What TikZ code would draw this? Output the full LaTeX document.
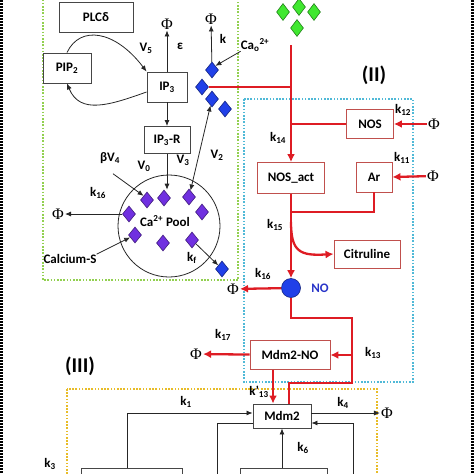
\documentclass[tikz,border=0pt]{standalone}
\usepackage[no-math]{fontspec}
\setmainfont{Carlito}
\newfontfamily\phifont{Liberation Serif}
\usetikzlibrary{arrows.meta,calc,positioning,shapes.geometric}

\definecolor{nored}{RGB}{222,28,36}
\definecolor{boxred}{RGB}{192,80,77}
\definecolor{boxgray}{RGB}{70,70,70}
\definecolor{zgreen}{RGB}{146,208,80}
\definecolor{zcyan}{RGB}{80,185,215}
\definecolor{zyellow}{RGB}{232,188,40}
\definecolor{dblue}{RGB}{32,64,232}
\definecolor{dpurple}{RGB}{112,48,224}
\definecolor{dgreen}{RGB}{64,232,48}
\definecolor{notext}{RGB}{40,52,200}

\newcommand{\kk}[1]{k\textsubscript{#1}}

\tikzset{
  box/.style={draw=boxgray, line width=0.9pt, inner sep=0pt, font=\bfseries\fontsize{13}{13}\selectfont},
  redbox/.style={draw=boxred, line width=0.9pt, inner sep=0pt, font=\bfseries\fontsize{13}{13}\selectfont},
  lbl/.style={inner sep=0pt, font=\bfseries\fontsize{13}{13}\selectfont},
  biglbl/.style={inner sep=0pt, font=\bfseries\fontsize{21}{21}\selectfont},
  phi/.style={inner sep=1pt, font=\phifont\fontsize{16}{16}\selectfont},
  arr/.style={-{Latex[length=6pt,width=5pt]}, line width=0.8pt, draw=black!85},
  plain/.style={line width=0.8pt, draw=black!85},
  rarr/.style={-{Latex[length=8pt,width=8pt]}, line width=2.3pt, draw=nored},
  rline/.style={line width=2.3pt, draw=nored},
  dia/.style={diamond, draw=#1!55!black, fill=#1, line width=0.6pt, minimum width=13pt, minimum height=16pt, inner sep=0pt},
  zone/.style={draw=#1, line width=2.4pt, dash pattern=on 1.6pt off 1.6pt},
  edgeline/.style={draw=black, line width=3.2pt, dash pattern=on 2pt off 1pt},
}

\begin{document}
\begin{tikzpicture}[x=1pt,y=-1pt]
  \useasboundingbox (0,0) rectangle (474,474);
  \clip (0,0) rectangle (474,474);
  % scanned page edges
  \draw[edgeline] (1.7,0) -- (1.7,474);
  \draw[edgeline] (472.3,0) -- (472.3,474);

  % module I
  \draw[zone=zgreen] (43,-10) rectangle (238,280);
  \node[box, minimum width=74pt, minimum height=30pt] (plc) at (96,17) {PLCδ};
  \node[box, minimum width=48pt, minimum height=30pt] (pip) at (67,68) {PIP\textsubscript{2}};
  \node[box, minimum width=40pt, minimum height=30pt] (ip3) at (167,87) {IP\textsubscript{3}};
  \node[box, minimum width=46pt, minimum height=27pt] (ip3r) at (167,140) {IP\textsubscript{3}-R};
  \draw[arr] (pip.north) .. controls (80,25) and (115,30) .. (ip3.north west);
  \draw[arr] ([yshift=-5pt]ip3.west) .. controls (110,105) and (80,115) .. (pip.south);
  \node[lbl] (v5) at (146,48) {V\textsubscript{5}};
  \node[phi] (phiE) at (167,24) {Φ};
  \draw[arr] (ip3) -- (phiE);
  \node[lbl] (eps) at (180,46) {ε};
  \draw[arr] (ip3) -- (ip3r);

  % Ca2+ pool
  \node[draw=black!85, circle, line width=0.8pt, minimum size=102pt] (pool) at (169,226) {};
  \foreach \x/\y [count=\i] in {147/200, 164/198, 189/197, 202/212, 129/214, 135/235, 163/243, 192/240}
    \node[dia=dpurple] (pd\i) at (\x,\y) {};
  \node[lbl] (pooltxt) at (165,221) {Ca\textsuperscript{2+} Pool};
  \foreach \x/\y [count=\i] in {212/70, 202/87, 212/99, 225/109, 222/269}
    \node[dia=dblue] (bd\i) at (\x,\y) {};
  \node[lbl] (bv4) at (110,158) {βV\textsubscript{4}};
  \draw[arr] ($(bv4.south)+(3,10)$) -- (pd1.north west);
  \draw[arr] (ip3r.south) -- (ip3r.south |- pd2.north);
  \node[lbl] (v0) at (144,166) {V\textsubscript{0}};
  \node[lbl] (v3) at (183,160) {V\textsubscript{3}};
  \draw[{Latex[length=6pt,width=5pt]}-{Latex[length=6pt,width=5pt]}, line width=0.8pt, draw=black!85] (pd3) -- (bd3);
  \node[lbl] (v2) at (217,155) {V\textsubscript{2}};
  \node[lbl] (cao) at (255,45) {Ca\textsubscript{o}\textsuperscript{2+}};
  \draw[arr] (cao.south west) -- (bd1.north east);
  \node[phi] (phiK) at (211,19) {Φ};
  \draw[arr] (bd1) -- (phiK);
  \node[lbl] (k) at (223,39) {k};
  \node[phi] (phiP) at (58,214) {Φ};
  \draw[arr] (pd5) -- (phiP);
  \node[lbl] (k16a) at (98,193) {\kk{16}};
  \node[lbl] (cals) at (70,259) {Calcium-S};
  \draw[arr] (cals.north east) -- (pd6);
  \draw[arr] (pd8) -- (bd5);
  \node[lbl] (kf) at (192,258) {\kk{f}};

  % module II
  \draw[zone=zcyan] (244,99) rectangle (413,382);
  \node[biglbl] (lII) at (374,75) {(II)};
  \foreach \x/\y [count=\i] in {283/12, 299/7, 314/12, 297/28}
    \node[dia=dgreen, minimum height=17pt] (gd\i) at (\x,\y) {};
  \coordinate (top) at (291,45);
  \node[redbox, minimum width=47pt, minimum height=29pt] (nos) at (370,124) {NOS};
  \node[redbox, minimum width=67pt, minimum height=31pt] (nosact) at (291,178) {NOS\_act};
  \node[redbox, minimum width=36pt, minimum height=30pt] (ar) at (374,177) {Ar};
  \node[redbox, minimum width=66pt, minimum height=28pt] (cit) at (367,254) {Citruline};
  \node[circle, fill=dblue, draw=dblue!55!black, line width=0.6pt, minimum size=19pt, inner sep=0pt] (no) at (291,288) {};
  \node[lbl, text=notext] (notxt) at (320,288) {NO};
  \draw[rline] (bd2.east) -- (bd2.east -| top);
  \draw[rarr] (top) -- (nosact.north);
  \draw[rline] (nos.west) -- (nos.west -| top);
  \node[lbl] (k14) at (278,138) {\kk{14}};
  \node[phi] (phiN) at (434,124) {Φ};
  \draw[rarr] (phiN) -- (nos.east);
  \node[lbl] (k12) at (403,110) {\kk{12}};
  \node[phi] (phiA) at (433,176) {Φ};
  \draw[rarr] (phiA) -- (ar.east);
  \node[lbl] (k11) at (402,158) {\kk{11}};
  \coordinate (arj) at (291,212);
  \draw[rline] (ar.south) |- (arj);
  \draw[rarr] (nosact.south) -- (no.north);
  \coordinate (cj) at (291,222);
  \draw[rarr] (cj) .. controls (291,252) and (300,256) .. (cit.west);
  \node[lbl] (k15) at (275,225) {\kk{15}};
  \node[phi] (phiNO) at (233,289) {Φ};
  \draw[rarr] (no) -- (phiNO);
  \node[lbl] (k16b) at (263,274) {\kk{16}};

  % module III
  \node[biglbl] (lIII) at (80,366) {(III)};
  \draw[zone=zyellow] (67,389) rectangle (377,500);
  \node[redbox, minimum width=80pt, minimum height=29pt] (mdmno) at (290,355) {Mdm2-NO};
  \node[box, minimum width=58pt, minimum height=24pt] (mdm2) at (282,416) {Mdm2};
  \coordinate (j2) at (352,318);
  \coordinate (j4) at (289,383);
  \draw[rline] (no) |- (j2) |- (j4) -- ([xshift=7pt]mdm2.north);
  \draw[rarr] (mdmno.east -| j2) -- (mdmno.east);
  \node[lbl] (k13) at (373,353) {\kk{13}};
  \node[phi] (phiM) at (196,354) {Φ};
  \draw[rarr] (mdmno) -- (phiM);
  \node[lbl] (k17) at (223,335) {\kk{17}};
  \draw[rarr] ([xshift=-17pt]mdmno.south) -- ([xshift=-9pt]mdm2.north);
  \node[lbl] (k13b) at (259,392) {k’\textsubscript{13}};
  \node[box, minimum width=101pt, minimum height=34pt] (cL) at (131.5,485) {};
  \node[box, minimum width=87pt, minimum height=34pt] (cR) at (283.5,485) {};
  \draw[arr] ([xshift=-4.5pt]cL.north) |- ([yshift=3pt]mdm2.west);
  \node[lbl] (k1) at (186,402) {\kk{1}};
  \coordinate (dL) at (217,480);
  \draw[plain] ([yshift=-7pt]mdm2.west) -| (dL);
  \node[phi] (phiD) at (387,413) {Φ};
  \draw[arr] ([yshift=3pt]mdm2.east) -- (phiD);
  \node[lbl] (k4) at (343,403) {\kk{4}};
  \coordinate (dR) at (353,480);
  \draw[arr] (dR) |- ([yshift=-7pt]mdm2.east);
  \draw[arr] (cR.north -| mdm2.south) -- (mdm2.south);
  \node[lbl] (k6) at (303,448) {\kk{6}};
  \node[lbl] (k3) at (50,464) {\kk{3}};
\end{tikzpicture}
\end{document}
